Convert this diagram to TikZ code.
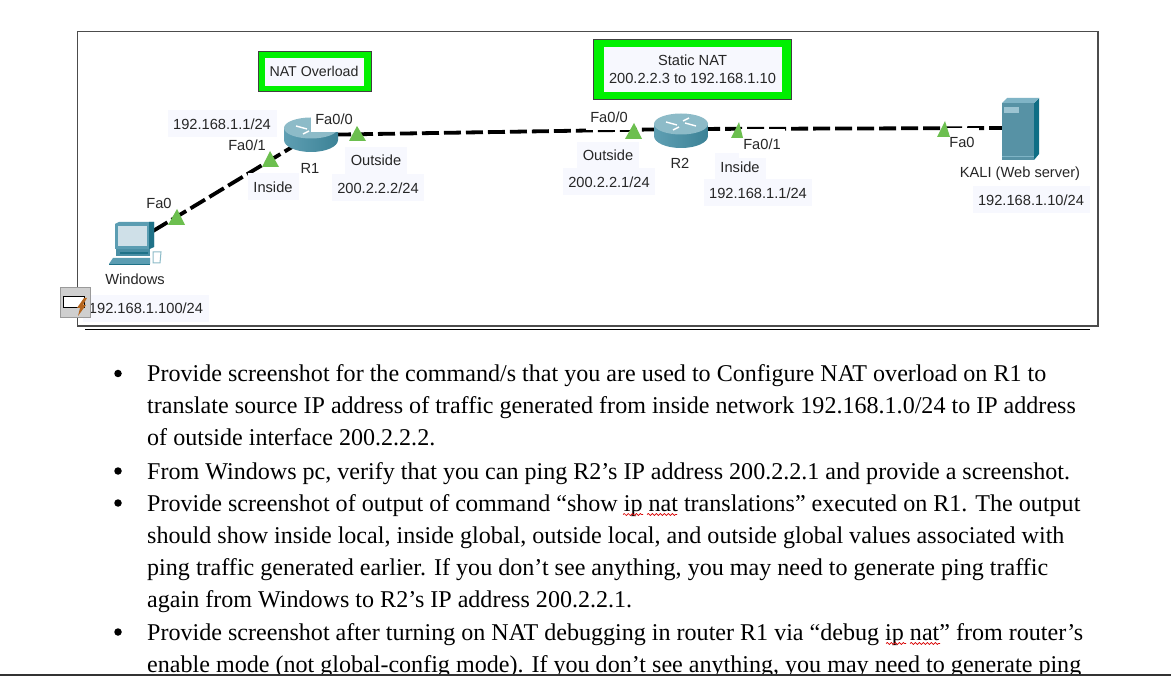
\documentclass[tikz,border=0pt]{standalone}
\usepackage{fontspec}
\setmainfont{Liberation Serif}
\newfontfamily\labelfont{Liberation Sans}
\usetikzlibrary{decorations.pathmorphing}
\definecolor{labelbg}{HTML}{F7F8FE}
\definecolor{portgreen}{HTML}{6CBF4F}
\definecolor{natgreen}{HTML}{00F000}
\definecolor{teal1}{HTML}{5F9FB3}
\definecolor{teal2}{HTML}{DCEDF0}
\definecolor{teal3}{HTML}{3C8296}
\definecolor{tealtop}{HTML}{8DBBC8}
\definecolor{srvside}{HTML}{0F6E85}
\definecolor{srvtop}{HTML}{7FB4C6}
\definecolor{srvmark}{HTML}{9CC4D2}
\definecolor{pcbody}{HTML}{5B9DB2}
\definecolor{pcdark}{HTML}{1F7288}
\definecolor{pcscreen}{HTML}{CFE0E8}
\definecolor{pcbase}{HTML}{4A8FA5}
\definecolor{iconline}{HTML}{9A9A9A}
\definecolor{iconfill}{HTML}{CFCFCF}
\definecolor{boltcol}{HTML}{B5651D}
\tikzset{
  x=1pt,y=-1pt,
  devnode/.style={inner sep=0pt,minimum size=0pt},
  netlink/.style={line width=3.8pt,black,dash pattern=on 17pt off 5pt},
  plainlabel/.style={font=\labelfont\fontsize{14.65}{16}\selectfont,text=black!85,inner sep=0pt},
  whitelabel/.style={plainlabel,fill=white,inner xsep=4pt,inner ysep=0pt,minimum height=27pt},
  boxlabel/.style={plainlabel,fill=labelbg,inner sep=0pt,minimum height=27pt},
  bodyline/.style={font=\fontsize{24.07}{26}\selectfont,anchor=base west,inner sep=0pt,text=black},
  bulletdot/.style={circle,fill=black,inner sep=0pt,minimum size=7.5pt},
  natbox/.style={draw=black!75,line width=1pt,fill=natgreen},
  natinner/.style={fill=labelbg,draw=none},
  porttri/.style={fill=portgreen,draw=none},
  squiggle/.style={draw=red!85!black,line width=0.7pt,decorate,decoration={snake,amplitude=1pt,segment length=4pt}}
}
\newcommand{\routericon}[2]{%
  \begin{scope}[shift={(#1,#2)}]
    \path[left color=teal1,middle color=teal2,right color=teal3]
      (-27,-8) -- (-27,5) arc[start angle=180,end angle=360,x radius=27pt,y radius=12pt] -- (27,-8) -- cycle;
    \fill[tealtop] (0,-7) ellipse [x radius=27pt,y radius=10.5pt];
    \draw[white,line width=1.4pt] (-15,-9) -- (-4,-6);
    \draw[white,line width=1.4pt] (15,-5) -- (4,-8);
    \draw[white,line width=1.4pt] (-8,-1) -- (-2,-4);
    \draw[white,line width=1.4pt] (8,-13) -- (2,-10);
  \end{scope}%
}
\begin{document}
\begin{tikzpicture}
\useasboundingbox (0,0) rectangle (1171,676);
\fill[white] (0,0) rectangle (1171,676);
% frame
\draw[black!70,line width=1.2pt] (77.5,31.5) rectangle (1098,326);
\draw[black,line width=1pt] (85,329.5) -- (1090,329.5);
% devices
\node[devnode] (win) at (134,242.5) {};
\node[devnode] (r1) at (312,135) {};
\node[devnode] (r2) at (681,129) {};
\node[devnode] (srv) at (1020,128) {};
% links
\draw[netlink] (win.center) -- (r1.center);
\draw[netlink] (r1.center) -- (r2.center);
\draw[netlink] (r2.center) -- (srv.center);
% icons
\routericon{311}{135}
\routericon{681}{131}
% server
\fill[teal1!92!black] (1002,103) rectangle (1034,160);
\fill[srvside] (1034,103) -- (1039,98) -- (1039,154) -- (1034,160) -- cycle;
\fill[srvtop] (1002,103) -- (1007,98) -- (1039,98) -- (1034,103) -- cycle;
\fill[srvmark] (1004,107) rectangle (1019,113);
\draw[srvtop,line width=0.6pt] (1002,156) -- (1034,156);
% pc
\fill[pcbody] (115,224) -- (119,222) -- (154,222) -- (154,247) -- (150,249) -- (115,249) -- cycle;
\fill[pcdark] (149,222) -- (154,222) -- (154,247) -- (149,249) -- cycle;
\fill[pcscreen] (118,226) rectangle (147,246);
\fill[pcbase] (116,249) rectangle (150,256);
\fill[pcdark] (120,252) rectangle (148,254);
\fill[pcbody] (113,258) -- (150,258) -- (150,264) -- (109,264) -- cycle;
\fill[pcdark] (109,264) rectangle (150,265.5);
\draw[tealtop,line width=1pt] (153,252) -- (161,252) -- (160,263) -- (153,263) -- cycle;
% port triangles
\fill[porttri] (177,209) -- (185,225) -- (168,225) -- cycle;
\fill[porttri] (270,151) -- (279,167) -- (262,167) -- cycle;
% NAT boxes
\draw[natbox] (258,52) rectangle (371,92);
\fill[natinner] (265,58) rectangle (364,86);
\node[plainlabel,font=\labelfont\fontsize{14.2}{16}\selectfont] (natover) at (314,71) {NAT Overload};
\draw[natbox] (593,39.5) rectangle (791,100);
\fill[natinner] (604,47) rectangle (782,92);
\node[plainlabel,align=center] (natstat) at (692.5,69.5) {Static NAT\\[1.5pt]200.2.2.3 to 192.168.1.10};
% labels with a shaded box
\node[boxlabel,minimum width=109pt] (ip1) at (222,124) {192.168.1.1/24};
\node[boxlabel,minimum width=62pt] (out1) at (376,160.5) {Outside};
\node[boxlabel,minimum width=92pt] (ip2) at (378,188) {200.2.2.2/24};
\node[boxlabel,minimum width=51pt] (in1) at (273,187) {Inside};
\node[boxlabel,minimum width=126pt] (ip3) at (146,308.5) {192.168.1.100/24};
\node[boxlabel,minimum width=62pt] (out2) at (608,155.5) {Outside};
\node[boxlabel,minimum width=92pt] (ip4) at (609,182) {200.2.2.1/24};
\node[boxlabel,minimum width=51pt] (in2) at (740,167) {Inside};
\node[boxlabel,minimum width=108pt] (ip5) at (758,193) {192.168.1.1/24};
\node[boxlabel,minimum width=117pt] (ip6) at (1031,200) {192.168.1.10/24};
% labels on white
\node[whitelabel] (p1) at (334,119) {Fa0/0};
\node[whitelabel] (p2) at (609,117) {Fa0/0};
\node[whitelabel,minimum height=29pt] (p3) at (762,144) {Fa0/1};
\node[whitelabel] (p4) at (962,142) {Fa0};
\node[plainlabel] (p5) at (247,145) {Fa0/1};
\node[plainlabel] (p6) at (159,203) {Fa0};
\node[plainlabel] (n1) at (310,168) {R1};
\node[plainlabel] (n2) at (680,163) {R2};
\node[plainlabel] (n3) at (135,279) {Windows};
\node[plainlabel] (n4) at (1020,174) {KALI (Web server)};
% triangles that sit over white labels
\fill[porttri] (357,126) -- (366,141) -- (349,141) -- cycle;
\fill[porttri] (634,123) -- (642,139) -- (625,139) -- cycle;
\fill[porttri] (739,122) -- (743,138) -- (731,138) -- cycle;
\fill[porttri] (945,121) -- (950,137) -- (937,137) -- cycle;
% note icon
\draw[iconline,fill=iconfill,line width=0.7pt] (60.5,287.5) rectangle (90,317);
\draw[black,line width=1pt,fill=white] (63.5,297) rectangle (84,308);
\fill[boltcol] (84,298) -- (87,298) -- (83,305) -- (86,305) -- (78,316) -- (80,308) -- (77,308) -- cycle;
% body text
\node[bulletdot] (b1) at (118,373.5) {};
\node[bodyline] (l1) at (147,381.5) {Provide screenshot for the command/s that you are used to Configure NAT overload on R1 to};
\node[bodyline] (l2) at (147,413.5) {translate source IP address of traffic generated from inside network 192.168.1.0/24 to IP address};
\node[bodyline] (l3) at (147,445.5) {of outside interface 200.2.2.2.};
\node[bulletdot] (b2) at (118,471) {};
\node[bodyline] (l4) at (147,479.5) {From Windows pc, verify that you can ping R2’s IP address 200.2.2.1 and provide a screenshot.};
\node[bulletdot] (b3) at (118,503) {};
\node[bodyline] (l5) at (147,511.5) {Provide screenshot of output of command “show ip nat translations” executed on R1. The output};
\node[bodyline] (l6) at (147,543.5) {should show inside local, inside global, outside local, and outside global values associated with};
\node[bodyline] (l7) at (147,575.5) {ping traffic generated earlier. If you don’t see anything, you may need to generate ping traffic};
\node[bodyline] (l8) at (147,607.5) {again from Windows to R2’s IP address 200.2.2.1.};
\node[bulletdot] (b4) at (118,632) {};
\node[bodyline] (l9) at (147,640.5) {Provide screenshot after turning on NAT debugging in router R1 via “debug ip nat” from router’s};
\node[bodyline] (l10) at (147,672.5) {enable mode (not global-config mode). If you don’t see anything, you may need to generate ping};
% spelling marks
\draw[squiggle] (623,514.5) -- (643,514.5);
\draw[squiggle] (647,514.5) -- (677,514.5);
\draw[squiggle] (886,643.5) -- (906,643.5);
\draw[squiggle] (910,643.5) -- (940,643.5);
% bottom rule
\fill[black!80] (0,673.5) rectangle (1171,676);
\end{tikzpicture}
\end{document}
